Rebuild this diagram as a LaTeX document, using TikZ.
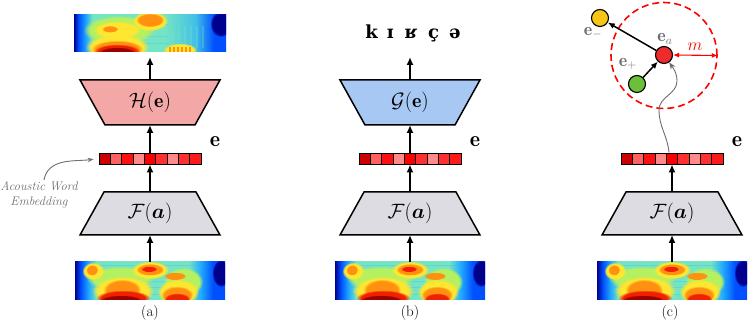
\documentclass[tikz,border=0pt]{standalone}
\usepackage{fontspec}
\usepackage{amsmath,bm}
\newfontfamily\ipafont{DejaVu Serif}
\usetikzlibrary{arrows.meta,fadings}
\definecolor{jdblue}{HTML}{00008F}
\definecolor{jblue}{HTML}{0050FF}
\definecolor{jlblue}{HTML}{20A8FF}
\definecolor{jbase}{HTML}{74E4C4}
\definecolor{jgreen}{HTML}{B4F060}
\definecolor{jyellow}{HTML}{FFE630}
\definecolor{jorange}{HTML}{FF9010}
\definecolor{jred}{HTML}{F02000}
\definecolor{jdred}{HTML}{9A0000}
\definecolor{hpink}{HTML}{F4A7A7}
\definecolor{gblue}{HTML}{A8C8F4}
\definecolor{fgray}{HTML}{DCDCE2}
\definecolor{em1}{HTML}{CC0000}
\definecolor{em2}{HTML}{FF6060}
\definecolor{em3}{HTML}{FF1010}
\definecolor{em4}{HTML}{FF8A8A}
\definecolor{em5}{HTML}{FF0000}
\definecolor{em6}{HTML}{FF3030}
\definecolor{em7}{HTML}{FF8A8A}
\definecolor{em8}{HTML}{FF3030}
\definecolor{em9}{HTML}{FF1A1A}
\definecolor{ered}{HTML}{EE2B2B}
\definecolor{eyellow}{HTML}{F5C518}
\definecolor{egreen}{HTML}{6CBF3A}
\definecolor{lblgray}{HTML}{6E6E6E}
\pgfdeclarehorizontalshading{bgin}{100bp}{color(0bp)=(jdblue); color(25bp)=(jdblue); color(27bp)=(jblue); color(29.5bp)=(jlblue); color(32bp)=(jbase); color(63bp)=(jbase); color(67bp)=(jlblue); color(71bp)=(jblue); color(75bp)=(jblue); color(100bp)=(jblue)}
\pgfdeclarehorizontalshading{bgout}{100bp}{color(0bp)=(jdblue); color(25bp)=(jdblue); color(26.5bp)=(jblue); color(29bp)=(jlblue); color(31bp)=(jbase); color(55bp)=(jbase); color(65bp)=(jlblue!60!jbase); color(71bp)=(jblue); color(75bp)=(jblue); color(100bp)=(jblue)}
\tikzset{
  soft/.style={path fading=circle with fuzzy edge 20 percent},
  specin/.pic={
    \begin{scope}
    \clip (0,0) rectangle (150,38);
    \shade[shading=bgin] (0,0) rectangle (150,38);
    \foreach \yy in {5,12,18,24,34}
      \fill[jlblue,opacity=.22] (14,\yy) rectangle (132,\yy+1.3);
    \fill[jgreen,soft] (45,22) ellipse (34pt and 12pt);
    \fill[jgreen,soft] (108,18) ellipse (20pt and 15pt);
    \fill[jdblue,soft] (146,27) ellipse (9pt and 14pt);
    \fill[jyellow,soft] (18,29) ellipse (11pt and 9pt);
    \fill[jorange,soft] (17,30) ellipse (6pt and 5.5pt);
    \fill[jyellow,soft] (75,30) ellipse (19pt and 9pt);
    \fill[jorange,soft] (75,30.5) ellipse (14pt and 6pt);
    \fill[jred,soft] (74,31) ellipse (8pt and 3pt);
    \fill[jyellow,soft] (48,9) ellipse (31pt and 15pt);
    \fill[jorange,soft] (47,10) ellipse (19pt and 11pt);
    \fill[jred,soft] (48,2) ellipse (27pt and 8pt);
    \fill[jdred,soft] (46,0) ellipse (21pt and 5pt);
    \fill[jyellow,soft] (103,8) ellipse (21pt and 13pt);
    \fill[jorange,soft] (102,5) ellipse (16pt and 9pt);
    \fill[jred,soft] (102,1) ellipse (13pt and 6pt);
    \fill[jorange,soft] (100,24) ellipse (11pt and 4pt);
    \end{scope}
  },
  specout/.pic={
    \begin{scope}
    \clip (0,0) rectangle (152,37);
    \shade[shading=bgout] (0,0) rectangle (152,37);
    \fill[jdblue,soft] (147,28) ellipse (11pt and 13pt);
    \foreach \xx in {98,104,110,116,122,128}
      \fill[jbase,opacity=.3] (\xx,4) rectangle ++(1.5,22);
    \foreach \yy in {8,15,27}
      \fill[jlblue,opacity=.2] (10,\yy) rectangle (95,\yy+1.3);
    \fill[jgreen,soft] (45,22) ellipse (36pt and 15pt);
    \fill[jyellow,soft] (43,22) ellipse (24pt and 9pt);
    \fill[jorange,soft] (36,23) ellipse (8pt and 3.5pt);
    \fill[jyellow,soft] (76,31) ellipse (18pt and 10pt);
    \fill[jorange,soft] (76,32) ellipse (14pt and 7pt);
    \fill[jyellow,soft] (43,5) ellipse (32pt and 13pt);
    \fill[jorange,soft] (43,3) ellipse (26pt and 9pt);
    \fill[jred,soft] (43,1) ellipse (23pt and 7pt);
    \fill[jdred,soft] (43,0) ellipse (18pt and 5pt);
    \fill[jyellow,soft] (106,2) ellipse (17pt and 7pt);
    \foreach \xx in {95,99,103,107,111,115}
      \fill[jorange] (\xx,0) rectangle ++(2,5);
    \end{scope}
  },
  arr/.style={line width=1.6pt,-{Latex[length=8pt,width=7pt]}},
  arrs/.style={line width=1.5pt,-{Latex[length=7pt,width=6pt]}},
  trapline/.style={line width=1.5pt,line join=miter},
  trapl/.style={font=\fontsize{20}{24}\selectfont},
  cellline/.style={line width=0.7pt,draw=black},
  embbox/.style={draw,line width=0.9pt,minimum width=102pt,minimum height=11pt,inner sep=0pt},
  elbl/.style={font=\fontsize{22}{24}\selectfont},
  specbox/.style={minimum width=150pt,minimum height=38pt,inner sep=0pt,outer sep=0pt},
  captxt/.style={font=\fontsize{15}{17}\selectfont},
  ball/.style={circle,draw,line width=1.1pt,minimum size=17pt,inner sep=0pt},
  glbl/.style={text=lblgray,font=\fontsize{18}{20}\selectfont},
}
\newcommand\mkenc[2]{%
  \draw[trapline, fill=fgray] (#1-46,131) -- (#1+46,131) -- (#1+70,88) -- (#1-70,88) -- cycle;
  \node[trapl] (#2) at (#1,109.5) {$\mathcal{F}(\bm{a})$};
  \coordinate (#2t) at (#1,131);
  \coordinate (#2b) at (#1,88);
}
\newcommand\mkdec[4]{%
  \draw[trapline, fill=#3] (#1-70,243) -- (#1+70,243) -- (#1+45,198) -- (#1-45,198) -- cycle;
  \node[trapl] (#2) at (#1,220.5) {#4};
  \coordinate (#2t) at (#1,243);
  \coordinate (#2b) at (#1,198);
}
\newcommand\mkemb[2]{%
  \foreach \cc [count=\k from 0] in {em1,em2,em3,em4,em5,em6,em7,em8,em9}
    \draw[cellline, fill=\cc] ({#1-51+\k*102/9},159) rectangle ({#1-51+(\k+1)*102/9},170);
  \node[embbox] (#2) at (#1,164.5) {};
  \node[elbl] (#2l) at (#1+65,181) {$\mathbf{e}$};
}
\newcommand\mkin[2]{%
  \pic at (#1-75,23) {specin};
  \node[specbox] (#2) at (#1,42) {};
}
\begin{document}
\begin{tikzpicture}[x=1pt,y=1pt]
\useasboundingbox (0,0) rectangle (748,323);
% ---------- panel (a)
\mkin{150}{sinA}
\mkenc{150}{FA}
\mkemb{150}{embA}
\mkdec{150}{HA}{hpink}{$\mathcal{H}(\mathbf{e})$}
\pic at (74,271) {specout};
\node[minimum width=152pt,minimum height=37pt,inner sep=0pt] (soutA) at (150,289.5) {};
\coordinate (outA) at (150,266);
\draw[arr] (sinA.north) -- (FAb);
\draw[arr] (FAt) -- (embA.south);
\draw[arr] (embA.north) -- (HAb);
\draw[arr] (HAt) -- (outA);
\node[captxt] (capA) at (150,10) {(a)};
\node[text=lblgray,align=center,font=\fontsize{12.5}{15}\selectfont\itshape] (awe) at (39,128) {Acoustic Word\\Embedding};
\coordinate (aweS) at (44,143);
\draw[lblgray,line width=0.9pt,-{Stealth[length=6pt,width=4.5pt]},shorten >=5pt] (aweS) to[out=80,in=188] (embA.west);
% ---------- panel (b)
\mkin{410}{sinB}
\mkenc{410}{FB}
\mkemb{410}{embB}
\mkdec{410}{GB}{gblue}{$\mathcal{G}(\mathbf{e})$}
\node[font=\ipafont\bfseries\fontsize{18}{20}\selectfont] (ipa) at (413,290) {k\hspace{9pt}ɪ\hspace{11pt}ʁ\hspace{11pt}ç\hspace{10pt}ə};
\coordinate (outB) at (410,266);
\draw[arr] (sinB.north) -- (FBb);
\draw[arr] (FBt) -- (embB.south);
\draw[arr] (embB.north) -- (GBb);
\draw[arr] (GBt) -- (outB);
\node[captxt] (capB) at (410,10) {(b)};
% ---------- panel (c)
\mkin{672}{sinC}
\mkenc{672}{FC}
\mkemb{672}{embC}
\draw[arr] (sinC.north) -- (FCb);
\draw[arr] (FCt) -- (embC.south);
\node[captxt] (capC) at (670,10) {(c)};
\node[circle,draw=red,line width=1.6pt,dash pattern=on 7pt off 4pt,minimum size=106pt,inner sep=0pt] (marg) at (664,267.5) {};
\node[ball,fill=ered] (ea) at (664,268) {};
\node[ball,fill=eyellow] (em) at (600,305) {};
\node[ball,fill=egreen] (ep) at (637,239) {};
\draw[arrs] (ea) -- (em);
\draw[arrs] (ep) -- (ea);
\draw[red,line width=1.1pt,{Latex[length=6pt,width=5pt]}-{Latex[length=6pt,width=5pt]}] (ea.east) -- (marg.east);
\node[text=red,font=\fontsize{18}{20}\selectfont] (mlbl) at (695,276) {$m$};
\node[glbl] (eal) at (665,284) {$\mathbf{e}_a$};
\node[glbl] (eml) at (593,290) {$\mathbf{e}_-$};
\node[glbl] (epl) at (628,259) {$\mathbf{e}_+$};
\draw[lblgray,line width=0.9pt,-{Stealth[length=7pt,width=5.5pt]}] (embC.north) ++(-3,0) coordinate (gst) (gst) to[out=95,in=-90] (659,213) to[out=90,in=-90] (677,242) to[out=90,in=-55] (ea);
\end{tikzpicture}
\end{document}
